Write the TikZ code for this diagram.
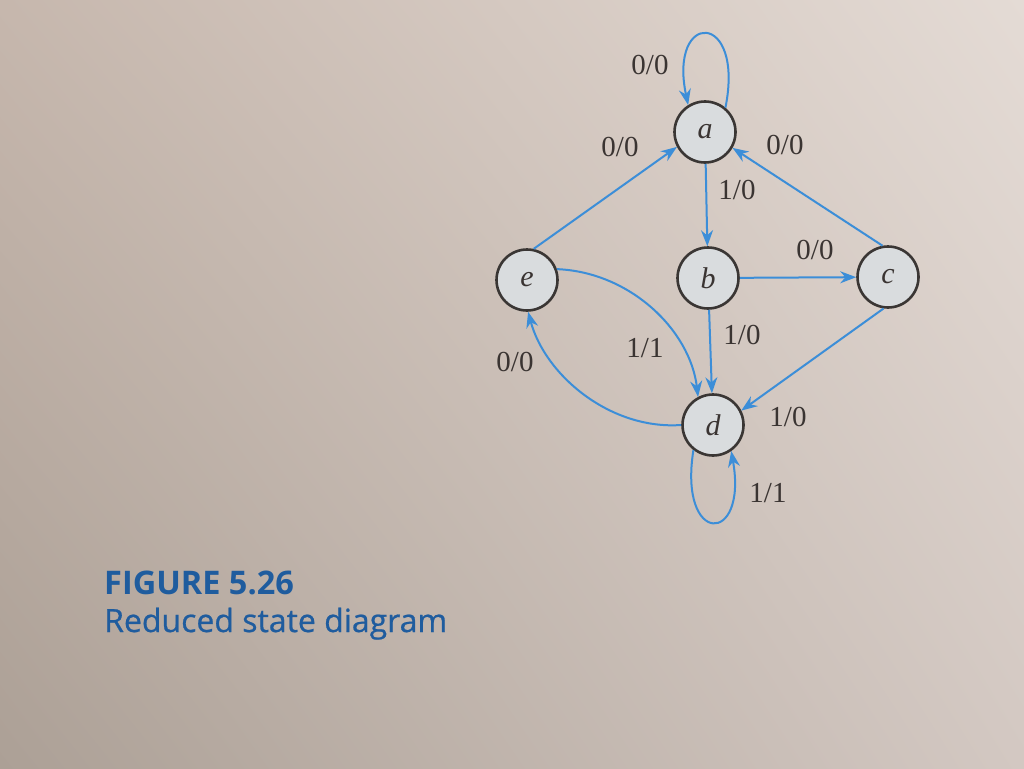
\documentclass[tikz,border=0pt]{standalone}
\usepackage{fontspec}
\setmainfont{Liberation Serif}
\newfontfamily\capfont{Open Sans}
\newfontfamily\capmed[FakeBold=0.7]{Open Sans}
\usetikzlibrary{arrows.meta,shadings}
\definecolor{paperTL}{HTML}{C6B7AD}
\definecolor{paperTR}{HTML}{E4DBD5}
\definecolor{paperBL}{HTML}{ACA096}
\definecolor{paperBR}{HTML}{D3C8C2}
\definecolor{edgeblue}{HTML}{3C8ED8}
\definecolor{capblue}{HTML}{1F5C9E}
\definecolor{statefill}{HTML}{D9DCDE}
\definecolor{statedraw}{HTML}{3A3634}
\definecolor{labelgray}{HTML}{3A3432}
\tikzset{
  statenode/.style={circle, draw=statedraw, line width=2.6pt, fill=statefill, minimum size=61pt, inner sep=0pt, text=labelgray, font=\fontsize{30}{30}\selectfont\itshape},
  arr/.style={draw=edgeblue, line width=2pt, -{Stealth[length=16pt,width=12pt]}},
  lab/.style={text=labelgray, font=\fontsize{29}{30}\selectfont, inner sep=0pt},
  captext/.style={anchor=base west, inner sep=0pt, text=capblue},
}
\begin{document}
\begin{tikzpicture}[x=1pt,y=-1pt]
\useasboundingbox (0,0) rectangle (1024,768);
\shade[upper left=paperTL, upper right=paperTR, lower left=paperBL, lower right=paperBR] (0,0) rectangle (1024,768);

\node[statenode] (a) at (705,132) {a};
\node[statenode] (b) at (708,278) {b};
\node[statenode] (c) at (888,277) {c};
\node[statenode] (d) at (713,425) {d};
\node[statenode] (e) at (527,280) {e};

% self loops
\draw[arr] (a.50) .. controls (745,10) and (668,10) .. (a.122);
\draw[arr] (d.232) .. controls (678,546) and (748,546) .. (d.305);

% straight edges
\draw[arr] (e.78) -- (a.208);
\draw[arr] (c.100) -- (a.330);
\draw[arr] (a) -- (b);
\draw[arr] (b) -- (c);
\draw[arr] (b) -- (d);
\draw[arr] (c.262) -- (d.27);

% curved edges
\draw[arr] (e.20) .. controls (630,272) and (690,330) .. (d.118);
\draw[arr] (d.180) .. controls (610,430) and (545,375) .. (e.272);

% labels
\node[lab] (l1) at (650,65) {0/0};
\node[lab] (l2) at (620,147) {0/0};
\node[lab] (l3) at (785,145) {0/0};
\node[lab] (l4) at (737,190) {1/0};
\node[lab] (l5) at (815,250) {0/0};
\node[lab] (l6) at (742,335) {1/0};
\node[lab] (l7) at (645,348) {1/1};
\node[lab] (l8) at (515,362) {0/0};
\node[lab] (l9) at (788,417) {1/0};
\node[lab] (l10) at (768,493) {1/1};

% caption
\node[captext, font=\capfont\bfseries\fontsize{32.5}{34}\selectfont] (cap1) at (104,594) {FIGURE 5.26};
\node[captext, font=\capmed\fontsize{32}{34}\selectfont] (cap2) at (104,632) {Reduced state diagram};
\end{tikzpicture}
\end{document}
